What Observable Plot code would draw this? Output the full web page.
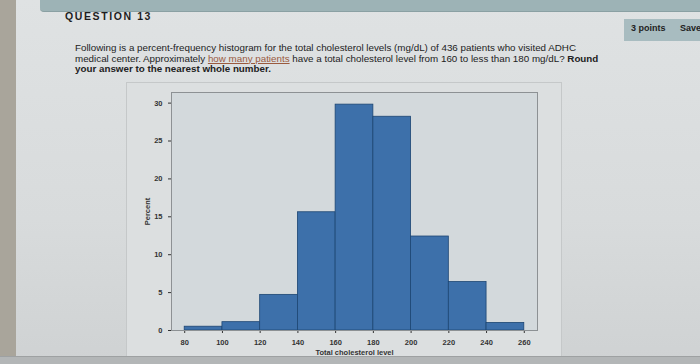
<!DOCTYPE html>
<html><head><meta charset="utf-8">
<script src="https://cdn.jsdelivr.net/npm/d3@7"></script>
<script src="https://cdn.jsdelivr.net/npm/@observablehq/plot@0.6"></script>
<style>
html,body{margin:0;padding:0;}
body{width:700px;height:364px;overflow:hidden;position:relative;background:linear-gradient(180deg,#dfe2e3 0%,#d8dbdc 60%,#cfd2d3 100%);font-family:"Liberation Sans",Arial,sans-serif;}
.abs{position:absolute;}
#strip{left:0;top:0;width:16px;height:364px;background:#a9a59b;}
#topbar{left:40px;top:0;width:660px;height:11px;background:#9db3b6;border-bottom:1px solid #8aa0a3;border-bottom-left-radius:4px;}
#q{left:65px;top:10px;font-weight:bold;font-size:10.5px;letter-spacing:1.6px;color:#1e1e1e;}
#pts{left:624px;top:19px;width:76px;height:22px;background:#a8bcc0;font-size:9px;color:#222;}
#pts span{position:absolute;top:4px;}
#txt{left:75px;top:43px;font-size:9.8px;line-height:10.6px;color:#222;white-space:nowrap;}
#txt u{color:#9a5a3e;}
#panel{left:126px;top:82px;width:434px;height:290px;border:1px solid #c5c8c9;background:#dcdfe0;}
#chart{left:130px;top:85px;}
#bottom{left:0;top:356px;width:700px;height:8px;background:#b3b6b7;border-top:1px solid #9ea1a2;}
</style></head>
<body>
<div class="abs" id="strip"></div>
<div class="abs" id="topbar"></div>
<div class="abs" id="q">QUESTION 13</div>
<div class="abs" id="pts"><span style="left:7px;font-weight:bold">3 points</span><span style="left:56px;font-weight:bold">Save</span></div>
<div class="abs" id="txt">Following is a percent-frequency histogram for the total cholesterol levels (mg/dL) of 436 patients who visited ADHC<br>medical center. Approximately <u>how many patients</u> have a total cholesterol level from 160 to less than 180 mg/dL? <b>Round</b><br><b>your answer to the nearest whole number.</b></div>
<div class="abs" id="panel"></div>
<div class="abs" id="chart"></div>
<div class="abs" id="bottom"></div>
<script>
const binStart = [80, 100, 120, 140, 160, 180, 200, 220, 240];
const binEnd = [100, 120, 140, 160, 180, 200, 220, 240, 260];
const percent = [0.5, 1.1, 4.7, 15.6, 29.8, 28.2, 12.4, 6.4, 1.0];
const xTicks = [80, 100, 120, 140, 160, 180, 200, 220, 240, 260];
const yTicks = [0, 5, 10, 15, 20, 25, 30];

const data = binStart.map((s, i) => ({x1: s, x2: binEnd[i], pct: percent[i]}));

const chart = Plot.plot({
  width: 420,
  height: 275,
  marginLeft: 41,
  marginRight: 13,
  marginTop: 7,
  marginBottom: 30,
  style: {fontFamily: "Liberation Sans, Arial, sans-serif", fontSize: "7.5px", fontWeight: "bold", color: "#333", background: "transparent"},
  x: {domain: [73, 267], ticks: xTicks, tickSize: 3, label: "Total cholesterol level", labelArrow: "none", labelAnchor: "center", labelOffset: 24},
  y: {domain: [0, 31.4], ticks: yTicks, tickSize: 3, label: "Percent", labelArrow: "none", labelAnchor: "center", labelOffset: 27},
  marks: [
    Plot.frame({fill: "#d3d9dc", stroke: "none"}),
    Plot.rect(data, {x1: "x1", x2: "x2", y1: 0, y2: "pct", fill: "#3d70aa", stroke: "#1d4673", strokeWidth: 0.8}),
    Plot.frame({stroke: "#8d9194"})
  ]
});
document.getElementById("chart").appendChild(chart);
</script>
</body></html>
